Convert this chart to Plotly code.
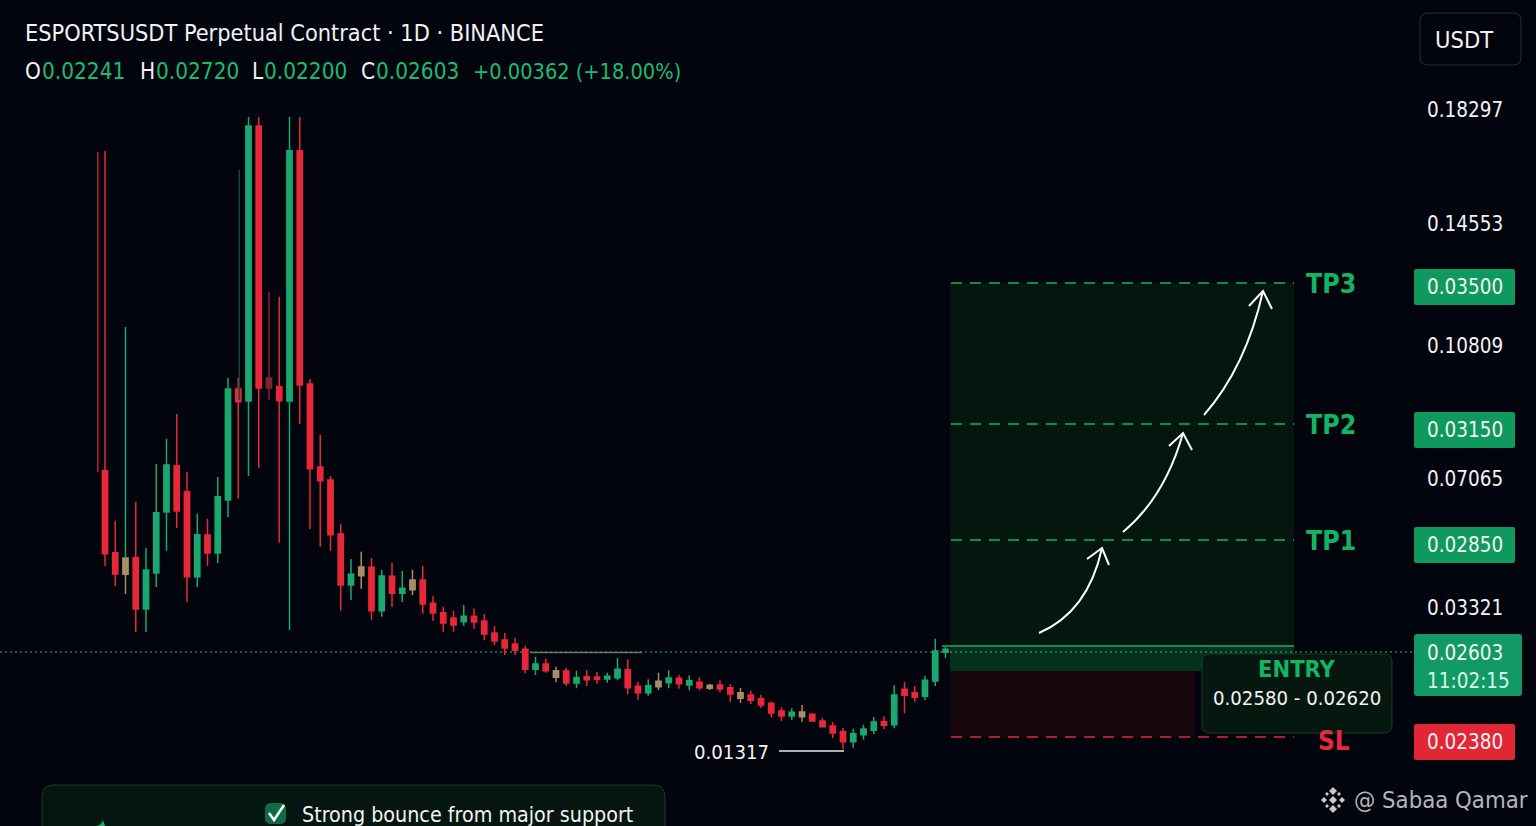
import plotly.graph_objects as go

kinds = list("RRTRGGGRRGRGGRGRDRGRRRRRGTRGRGTRRRRGRRRRRRGRTRGRRGGRRGTGRGRTRRTRRRRGTRRRRGGGRGRRGGG")
open_ = [.08233,.06183,.05643,.06058,.04775,.05675,.072,.08358,.07708,.05583,.06625,.06175,.075,.10275,.09975,.1685,.1055,.10333,.09975,.16233,.104,.08325,.08,.0665,.05375,.05608,.05818,.04733,.05593,.05168,.05258,.055,.04918,.04683,.0455,.04458,.04593,.04475,.04175,.04,.039,.03768,.03268,.034,.03068,.03225,.02925,.03083,.03075,.03025,.03058,.03258,.02843,.02683,.02833,.02933,.03043,.02875,.02943,.02793,.02875,.02808,.02543,.02625,.02533,.02418,.02225,.021,.02083,.02143,.01975,.0185,.01708,.01458,.01633,.01743,.01958,.01883,.02768,.02683,.02593,.02975,.03693]
high = [.16225,.06983,.0605,.07458,.063,.084,.09033,.0965,.08208,.07158,.07025,.08075,.1055,.1055,.17075,.17075,.127,.12583,.17075,.17075,.10525,.09125,.081,.069,.06025,.06208,.0605,.0575,.05925,.05725,.05758,.0585,.051,.04833,.04733,.04875,.04793,.0465,.0435,.04175,.04058,.03858,.03583,.03533,.03333,.033,.03233,.0325,.032,.03183,.0355,.03518,.02958,.03018,.03183,.03243,.03133,.03118,.03068,.029,.02993,.029,.028,.02733,.02633,.02458,.02318,.02293,.02375,.0215,.0205,.01943,.01808,.01783,.01883,.02075,.02093,.02868,.0295,.0285,.031,.04033,.03833]
low = [.0585,.0535,.0515,.042,.042,.05325,.06233,.068,.0495,.05325,.0585,.05925,.07075,.07533,.081,.083,.1,.06433,.0425,.094,.06775,.06333,.06233,.04733,.05,.05283,.045,.04583,.04825,.0495,.05125,.04658,.04475,.04208,.04208,.04358,.04283,.03993,.03875,.03625,.03625,.03168,.03125,.03183,.0295,.0285,.02793,.0285,.02908,.02933,.02993,.02643,.02508,.02608,.02743,.02793,.02783,.02743,.02743,.0275,.02693,.02458,.02433,.024,.023,.02068,.01975,.02008,.01958,.01963,.01825,.0155,.01268,.01308,.01508,.0165,.01775,.01793,.02168,.02458,.025,.0285,.03543]
close = [.06158,.0565,.06050,.04775,.0575,.07183,.08375,.07225,.05583,.06633,.06175,.07583,.10275,.09958,.1685,.103,.103,.09983,.16233,.10375,.08283,.07983,.06633,.05375,.05643,.05825,.04733,.056,.05168,.05293,.055,.049,.04675,.04425,.04375,.04593,.0445,.0415,.03975,.038,.03743,.03268,.034,.03233,.03233,.02925,.03058,.03008,.03018,.03093,.03268,.02808,.02683,.02858,.02968,.0305,.02908,.02983,.02808,.02868,.02775,.0265,.02683,.02493,.02375,.02175,.021,.02193,.022,.01975,.01833,.01675,.01458,.01658,.01775,.0195,.01868,.02625,.02618,.02568,.02993,.03725,.03768]
axis_tick_labels = ["0.18297", "0.14553", "0.10809", "0.07065", "0.03321"]
axis_tick_values = [.1725, .144, .1135, .08025, .048]
ghost_x = [-0.7, 13.1, 2]
ghost_high = [.162, .1575, .11825]
ghost_low = [.082, .1, .0605]
ghost_colors = ["#b92433", "#0d4b33", "#1aa870"]
level_names = ["TP3", "TP2", "TP1"]
level_labels = ["0.03500", "0.03150", "0.02850"]
level_values = [.12925, .094, .065]
sl_label, sl_value = "0.02380", .01575
last_value = .037
entry_line = .0385

W, H = 1536, 826
BG = "#02040e"
GREEN = "#1aa870"
RED = "#e8283a"
TAN = "#a98d68"
DIM = "#86202c"
TXT = "#f2f3f3"
LABEL_GREEN = "#12b563"
VALUE_GREEN = "#19bd72"
FONT = "DejaVu Sans Condensed, DejaVu Sans"


def fx(p):
    return f"{p / W:.5f}"


def fy(p):
    return f"{1 - p / H:.5f}"


def pt(x, y):
    return f"{fx(x)},{fy(y)}"


def rrect(x0, y0, x1, y1, r):
    return (f"M{pt(x0 + r, y0)} L{pt(x1 - r, y0)} Q{pt(x1, y0)} {pt(x1, y0 + r)} "
            f"L{pt(x1, y1 - r)} Q{pt(x1, y1)} {pt(x1 - r, y1)} L{pt(x0 + r, y1)} "
            f"Q{pt(x0, y1)} {pt(x0, y1 - r)} L{pt(x0, y0 + r)} Q{pt(x0, y0)} {pt(x0 + r, y0)} Z")


shapes, annos = [], []


def add_path(path, fill=None, line=None, width=0, layer="above"):
    shapes.append(dict(type="path", xref="paper", yref="paper", path=path, layer=layer,
                       fillcolor=fill or "rgba(0,0,0,0)",
                       line=dict(color=line or "rgba(0,0,0,0)", width=width)))


def add_rect(x0, y0, x1, y1, fill, layer="below"):
    shapes.append(dict(type="rect", xref="paper", yref="paper", x0=x0 / W, x1=x1 / W,
                       y0=1 - y1 / H, y1=1 - y0 / H, fillcolor=fill, line=dict(width=0), layer=layer))


def add_hline(x0, x1, value, color, dash, width=1.5, layer="above"):
    shapes.append(dict(type="line", xref="paper", yref="y", x0=x0 / W, x1=x1 / W, y0=value, y1=value,
                       line=dict(color=color, width=width, dash=dash), layer=layer))


def text(x, y, s, size=22, color=TXT, anchor="left", weight=None):
    annos.append(dict(xref="paper", yref="paper", x=x / W, y=1 - y / H, text=s, showarrow=False,
                      xanchor=anchor, yanchor="middle", borderpad=0,
                      font=dict(family=FONT, size=size, color=color, weight=weight)))


# target zones
add_rect(950, 283, 1294, 647, "#03170e")
add_rect(950, 647, 1294, 671, "#05301c")
add_rect(950, 671, 1195, 737, "#15050c")
add_hline(942, 1294, entry_line, "#1fae6c", "solid", 1.5)
add_hline(0, 1415, last_value, "#22c07a", "2px,3px", 1.2, "below")
add_hline(530, 642, .0369, "#5f7a68", "solid", 1.5, "below")

for name, label, value, py, top, bottom in zip(level_names, level_labels, level_values,
                                               [283, 424, 540], [269, 412, 527], [305, 448, 563]):
    add_hline(951, 1294, value, "#15b265", "11px,8px")
    text(1305, py, name, 26.5, LABEL_GREEN, weight=600)
    add_path(rrect(1414, top, 1515, bottom, 2), "#10995f")
    text(1464.5, (top + bottom) / 2, label, 20.5, TXT, "center")
add_hline(951, 1294, sl_value, "#e8283a", "11px,8px")
text(1317, 741, "SL", 26, "#e8283a", weight=600)
add_path(rrect(1414, 724, 1515, 760, 2), "#e22636")
text(1464.5, 742, sl_label, 20.5, TXT, "center")

# last price tag
add_path(rrect(1414, 634, 1522, 696, 3), "#129a66")
text(1464.5, 653, "0.02603", 20.5, TXT, "center")
text(1468, 681, "11:02:15", 20.5, "#dff3ea", "center")

# entry panel
add_path(rrect(1202, 654, 1392, 733, 8), "#06170f", "#1b3a2b", 1)
text(1297, 669, "ENTRY", 23.5, LABEL_GREEN, "center", 600)
text(1297, 698, "0.02580 - 0.02620", 20.2, TXT, "center")

# arrows
for s, c, e, l, r in [((1039, 633), (1088, 612), (1102, 548), (1087, 559), (1109, 565)),
                      ((1123, 532), (1165, 497), (1183, 433), (1169, 446), (1192, 450)),
                      ((1204, 415), (1246, 367), (1263, 291), (1249, 306), (1272, 309))]:
    add_path(f"M{pt(*s)} Q{pt(*c)} {pt(*e)}", None, "#ffffff", 2)
    add_path(f"M{pt(*l)} L{pt(*e)} L{pt(*r)}", None, "#ffffff", 2)

# low marker
text(693, 752, "0.01317", 20.2, TXT)
add_path(f"M{pt(779, 751)} L{pt(844, 751)}", None, "#e8e8e8", 1.5)

# header
text(24, 33, "ESPORTSUSDT Perpetual Contract · 1D · BINANCE", 23.3)
for x, letter, xv, val in [(24, "O", 41, "0.02241"), (139, "H", 155, "0.02720"),
                           (251, "L", 263, "0.02200"), (360, "C", 375, "0.02603")]:
    text(x, 71, letter, 22.4)
    text(xv, 71, val, 22.4, VALUE_GREEN)
text(472, 71, "+0.00362 (+18.00%)", 21.6, VALUE_GREEN)

# currency box
add_path(rrect(1420, 13, 1521, 65, 8), BG, "#2b2f38", 1)
text(1434, 40, "USDT", 23.5)

# bottom panel
add_path(rrect(42, 785, 665, 860, 12), "#05150f", "#1c3a2c", 1)
add_path(rrect(265, 803, 286, 824, 6), "#0e6b45")
add_path(f"M{pt(269, 813)} L{pt(274, 820)} L{pt(284, 805)}", None, "#ffffff", 2.5)
text(301, 814, "Strong bounce from major support", 21.3)
add_path(f"M{pt(96, 826)} Q{pt(102, 825)} {pt(103, 820)} L{pt(105, 826)} Z", "#12b563")

# watermark
cx, cy = 1333, 800
for dx, dy, s in [(0, -9, 4), (0, 9, 4), (-9, 0, 3), (9, 0, 3), (0, 0, 4), (-6, -6, 2), (6, -6, 2), (-6, 6, 2), (6, 6, 2)]:
    x, y = cx + dx, cy + dy
    add_path(f"M{pt(x, y - s)} L{pt(x + s, y)} L{pt(x, y + s)} L{pt(x - s, y)} Z", "#c6c8ca")
text(1353, 800, "@ Sabaa Qamar", 23.7, "#b4b7ba")

fig = go.Figure()
for gx, gh, gl, gc in zip(ghost_x, ghost_high, ghost_low, ghost_colors):
    fig.add_trace(go.Scatter(x=[gx, gx], y=[gh, gl], mode="lines",
                             line=dict(color=gc, width=1.5), hoverinfo="skip"))
for kind, color in [("G", GREEN), ("R", RED), ("T", TAN), ("D", DIM)]:
    idx = [i for i, k in enumerate(kinds) if k == kind]
    fig.add_trace(go.Candlestick(
        x=idx, open=[open_[i] for i in idx], high=[high[i] for i in idx],
        low=[low[i] for i in idx], close=[close[i] for i in idx],
        increasing=dict(line=dict(color=color, width=1.5), fillcolor=color),
        decreasing=dict(line=dict(color=color, width=1.5), fillcolor=color),
        whiskerwidth=0, name=kind))

fig.update_layout(
    width=W, height=H, margin=dict(l=0, r=0, t=0, b=0), showlegend=False,
    paper_bgcolor=BG, plot_bgcolor=BG, boxmode="overlay", boxgap=0.27,
    shapes=shapes, annotations=annos,
    font=dict(family=FONT),
    xaxis=dict(domain=[0, 1415 / W], range=[-10.244, 127.805], visible=False,
               rangeslider=dict(visible=False), showgrid=False, zeroline=False),
    yaxis=dict(range=[(800 - 826) / 4000, 0.2], side="right", showgrid=False, zeroline=False,
               tickmode="array", tickvals=axis_tick_values, ticktext=axis_tick_labels,
               ticks="", ticklabelstandoff=11, showline=False,
               tickfont=dict(family=FONT, size=20.5, color=TXT)),
)
fig.write_html("out.html", config=dict(displayModeBar=False),
               post_script="document.body.style.margin='0';document.body.style.background='#02040e';")
